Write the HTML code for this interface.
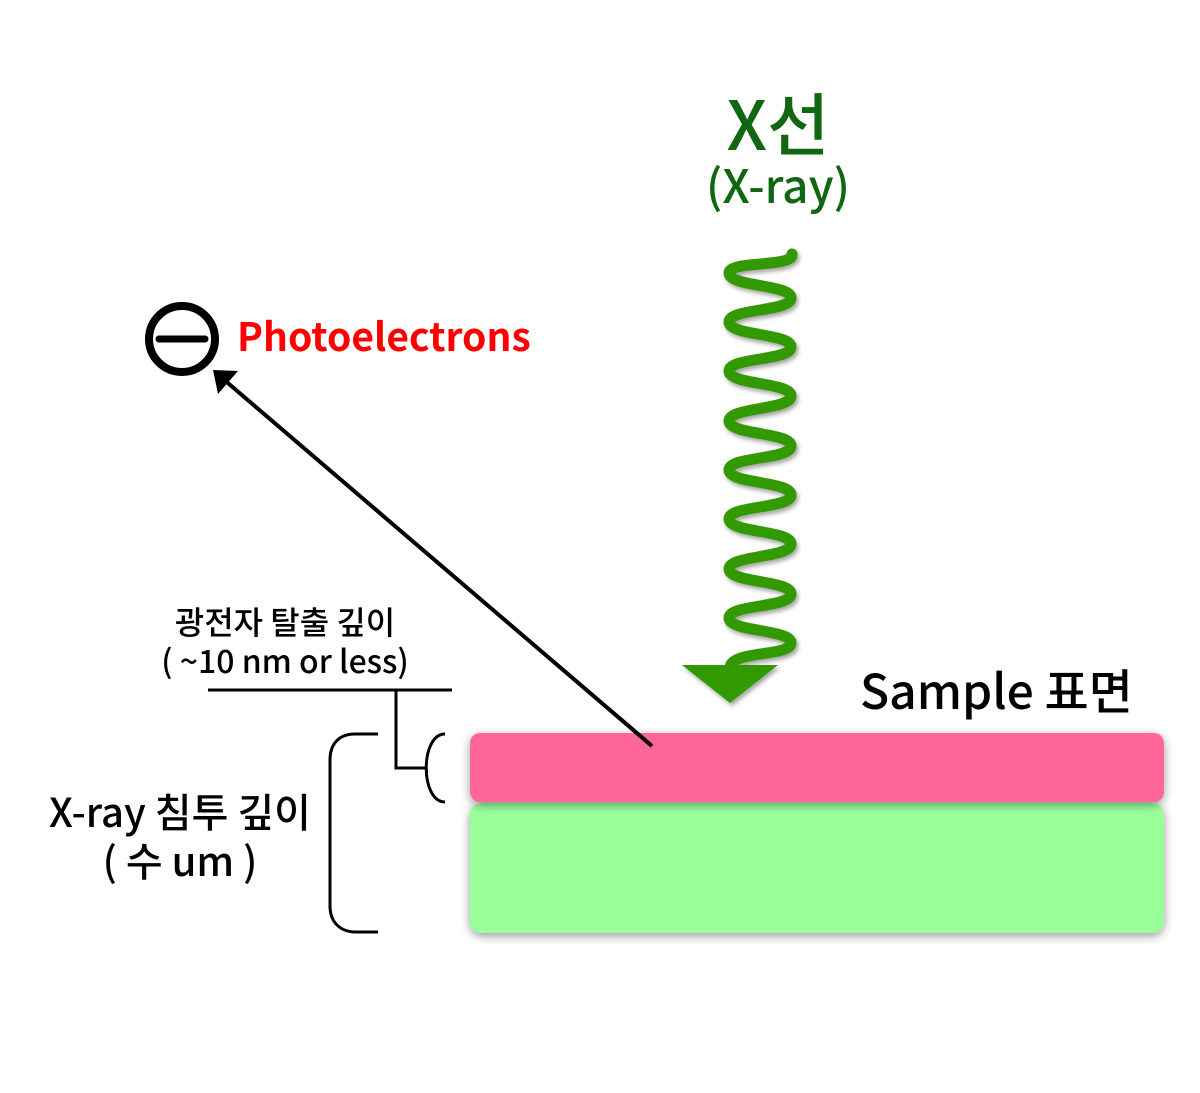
<!DOCTYPE html>
<html><head><meta charset="utf-8"><style>
body{margin:0;background:#fff;}
svg{display:block}
text{font-family:"Noto Sans CJK KR","Liberation Sans",sans-serif;font-weight:500;}
</style></head><body>
<svg width="1200" height="1093" viewBox="0 0 1200 1093" xmlns="http://www.w3.org/2000/svg">
<defs>
<filter id="sh" x="-10%" y="-30%" width="120%" height="160%"><feDropShadow dx="0" dy="3" stdDeviation="5" flood-color="#000" flood-opacity="0.4"/></filter>
<filter id="sh2" x="-30%" y="-10%" width="160%" height="120%"><feDropShadow dx="2" dy="3" stdDeviation="2" flood-color="#000" flood-opacity="0.35"/></filter>
</defs>
<rect x="470" y="803" width="694" height="130" rx="12" fill="#99ff99" filter="url(#sh)"/>
<rect x="470" y="733" width="694" height="69" rx="10" fill="#ff6699" filter="url(#sh)"/>

<g filter="url(#sh2)">
<path fill="none" stroke="#339900" stroke-width="11" stroke-linecap="round"
d="M792 254 C794 268 729 260 729 273
C729 287 791 284 791 298
C791 312 729 308 729 322
C729 336 791 333 791 347
C791 361 729 357 729 371
C729 385 791 382 791 396
C791 410 729 407 729 421
C729 435 791 432 791 446
C791 460 729 456 729 470
C729 484 791 481 791 495
C791 509 729 505 729 519
C729 533 791 530 791 544
C791 558 729 555 729 569
C729 583 791 580 791 594
C791 608 729 604 729 618
C729 632 791 629 791 643
C791 657 730 650 730 668"/>
<polygon points="682,665 778,665 730,703" fill="#339900"/>
</g>

<line x1="652" y1="746" x2="222" y2="378" stroke="#000" stroke-width="4"/>
<polygon points="213,370 238,371 218,394" fill="#000"/>
<circle cx="182" cy="339" r="33" fill="none" stroke="#000" stroke-width="8"/>
<line x1="159" y1="339" x2="205" y2="339" stroke="#000" stroke-width="7" stroke-linecap="round"/>

<g fill="none" stroke="#000" stroke-width="3">
<line x1="208" y1="690" x2="452" y2="690"/>
<polyline points="396,690 396,768 425,768"/>
<path d="M445 734 C420 734 420 802 445 802"/>
<path d="M378 734 L355 734 C338 734 330 745 330 760 L330 906 C330 922 340 932 356 932 L378 932"/>
</g>

<text x="778" y="150" text-anchor="middle" font-size="68" fill="#116611">X선</text>
<text x="778" y="203" text-anchor="middle" font-size="46" fill="#116611">(X-ray)</text>
<text x="237" y="351" font-size="39" style="font-weight:bold" fill="#ff0000">Photoelectrons</text>
<text x="860" y="709" font-size="48" fill="#000">Sample 표면</text>
<text x="285" y="634" text-anchor="middle" font-size="32" fill="#000">광전자 탈출 깊이</text>
<text x="285" y="673" text-anchor="middle" font-size="32" fill="#000">( ~10 nm or less)</text>
<text x="180" y="827" text-anchor="middle" font-size="40" fill="#000">X-ray 침투 깊이</text>
<text x="180" y="876" text-anchor="middle" font-size="40" fill="#000">( 수 um )</text>
</svg>
</body></html>
